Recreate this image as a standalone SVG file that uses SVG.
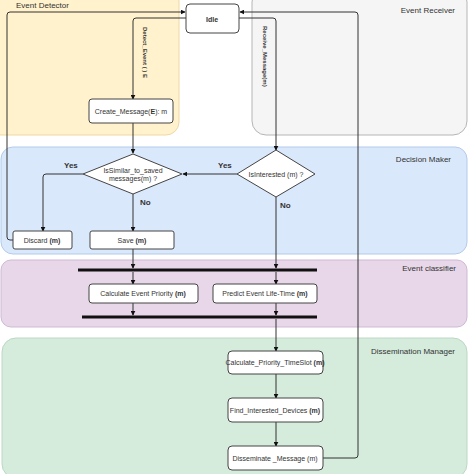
<svg xmlns="http://www.w3.org/2000/svg" width="474" height="474" viewBox="0 0 474 474">
<style>
text{font-family:"Liberation Sans",Arial,sans-serif;fill:#333}
.pl{font-size:8px}
.nt{font-size:7px;text-anchor:middle}
.lb{font-size:8px;font-weight:bold;fill:#333}
.node{fill:#fff;stroke:#444;stroke-width:1}
.dia{fill:#fff;stroke:#444;stroke-width:1}
.c{fill:none;stroke:#333;stroke-width:1}
.bar{stroke:#111;stroke-width:3.2}
.rot{font-size:6px;font-weight:bold}
</style>
<defs>
<marker id="a" viewBox="0 0 8 8" refX="7" refY="4" markerWidth="5" markerHeight="5" orient="auto" markerUnits="userSpaceOnUse">
<path d="M0,0 L8,4 L0,8 z" fill="#111"/>
</marker>
</defs>
<g id="panels">
<g id="event-detector"><rect x="-12" y="-12" width="191" height="147" rx="13" fill="#fff2cc" stroke="#efd9a4"/><text class="pl" x="16" y="8">Event Detector</text></g>
<g id="event-receiver"><rect x="252" y="-12" width="215" height="147" rx="14" fill="#f5f5f5" stroke="#b5b5b5"/><text class="pl" x="455" y="13" text-anchor="end">Event Receiver</text></g>
<g id="decision-maker"><rect x="1" y="147" width="466" height="107" rx="12" fill="#dae8fc" stroke="#b3cbe9"/><text class="pl" x="451" y="162" text-anchor="end">Decision Maker</text></g>
<g id="event-classifier"><rect x="1" y="260" width="466" height="67" rx="10" fill="#e8d7e9" stroke="#cfb9d4"/><text class="pl" x="456" y="271" text-anchor="end">Event classifier</text></g>
<g id="dissemination-manager"><rect x="2" y="338" width="465" height="140" rx="14" fill="#d5ebdc" stroke="#bcd8c3"/><text class="pl" x="455" y="354" text-anchor="end">Dissemination Manager</text></g>
</g>
<g id="connectors">
<path class="c" d="M13,240 H10 Q7,240 7,237 V15 Q7,12 10,12 H185" marker-end="url(#a)"/>
<path class="c" d="M186,18 H136 Q133,18 133,21 V99" marker-end="url(#a)"/>
<path class="c" d="M133,123 V153" marker-end="url(#a)"/>
<path class="c" d="M239,18 H273 Q276,18 276,21 V150" marker-end="url(#a)"/>
<path class="c" d="M237,174 H183" marker-end="url(#a)"/>
<path class="c" d="M83,174 H46 Q43,174 43,177 V231" marker-end="url(#a)"/>
<path class="c" d="M133,194 V231" marker-end="url(#a)"/>
<path class="c" d="M133,249 V268" marker-end="url(#a)"/>
<path class="c" d="M276,197 V268" marker-end="url(#a)"/>
<path class="c" d="M133,272 V284" marker-end="url(#a)"/>
<path class="c" d="M276,272 V284" marker-end="url(#a)"/>
<path class="c" d="M133,303 V315" marker-end="url(#a)"/>
<path class="c" d="M276,303 V315" marker-end="url(#a)"/>
<path class="c" d="M276,319 V351" marker-end="url(#a)"/>
<path class="c" d="M276,374 V398" marker-end="url(#a)"/>
<path class="c" d="M276,422 V446" marker-end="url(#a)"/>
<path class="c" d="M323,458 H355 Q358,458 358,455 V15 Q358,12 355,12 H240" marker-end="url(#a)"/>
<line class="bar" x1="78" y1="270" x2="317" y2="270"/>
<line class="bar" x1="82" y1="317" x2="317" y2="317"/>
<text class="rot" transform="translate(143,27) rotate(90)">Detect_Event ( ) E</text>
<text class="rot" transform="translate(263,26) rotate(90)">Receive_Message(m)</text>
<text class="lb" x="64" y="168">Yes</text>
<text class="lb" x="218" y="168">Yes</text>
<text class="lb" x="140" y="205">No</text>
<text class="lb" x="280" y="208">No</text>
</g>
<g id="idle"><rect class="node" x="186" y="4" width="53" height="29" rx="4"/><text class="nt" x="212" y="21.5" font-weight="bold">Idle</text></g>
<g id="create-message"><rect class="node" x="89" y="99" width="84" height="24" rx="3"/><text class="nt" x="131" y="113.5">Create_Message(<tspan font-weight="bold">E</tspan>): m</text></g>
<g id="is-similar"><polygon class="dia" points="133,154 182,174 133,194 83,174"/><text class="nt" x="133" y="173">IsSimilar_to_saved</text><text class="nt" x="133" y="181">messages(m) ?</text></g>
<g id="is-interested"><polygon class="dia" points="276,150 315,174 276,197 237,174"/><text class="nt" x="276" y="176.5">IsInterested (m) ?</text></g>
<g id="discard"><rect class="node" x="13" y="231" width="59" height="18" rx="2"/><text class="nt" x="42" y="242.5">Discard <tspan font-weight="bold">(m)</tspan></text></g>
<g id="save"><rect class="node" x="90" y="231" width="84" height="18" rx="2"/><text class="nt" x="132" y="242.5">Save <tspan font-weight="bold">(m)</tspan></text></g>
<g id="calc-priority"><rect class="node" x="89" y="284" width="109" height="19" rx="3"/><text class="nt" x="143" y="296">Calculate Event Priority <tspan font-weight="bold">(m)</tspan></text></g>
<g id="predict-lifetime"><rect class="node" x="213" y="284" width="104" height="19" rx="3"/><text class="nt" x="265" y="296">Predict Event Life-Time <tspan font-weight="bold">(m)</tspan></text></g>
<g id="calc-timeslot"><rect class="node" x="228" y="351" width="95" height="23" rx="4"/><text class="nt" x="275" y="365" font-size="6.3">Calculate_Priority_TimeSlot <tspan font-weight="bold">(m)</tspan></text></g>
<g id="find-devices"><rect class="node" x="228" y="398" width="95" height="24" rx="4"/><text class="nt" x="275" y="412.5" font-size="6.5">Find_Interested_Devices <tspan font-weight="bold">(m)</tspan></text></g>
<g id="disseminate"><rect class="node" x="228" y="446" width="95" height="24" rx="4"/><text class="nt" x="275" y="460.5">Disseminate _Message (m)</text></g>
</svg>
